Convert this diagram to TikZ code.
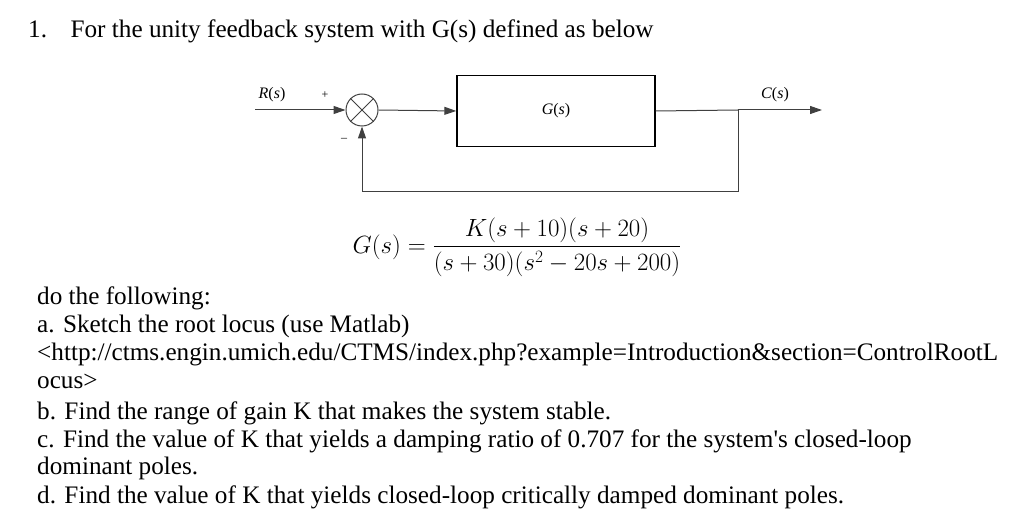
\documentclass[tikz,border=0pt]{standalone}
\usepackage{amsmath}
\usepackage{fontspec}
\setmainfont{Liberation Serif}
\usetikzlibrary{arrows.meta}
\begin{document}
\begin{tikzpicture}[x=1pt,y=-1pt,
  txt/.style={anchor=west,inner sep=0pt,font=\fontsize{25.2}{28}\selectfont},
  lbl/.style={inner sep=0pt,font=\fontsize{16}{18}\selectfont},
  wire/.style={draw=black!75,line width=1pt},
  arr/.style={wire,-{Triangle[length=12pt,width=8pt]}}]
\useasboundingbox (0,0) rectangle (1024,529);
\node[txt] (t1) at (28,31) {1.\hspace{0.6em} For the unity feedback system with G(s) defined as below};
% block diagram
\coordinate (in) at (255,110);
\node[draw=black!75,line width=1pt,circle,minimum size=32pt,inner sep=0pt] (sum) at (362,110) {};
\draw[wire] (sum.north west) -- (sum.south east) (sum.north east) -- (sum.south west);
\node[draw=black,line width=1.4pt,minimum width=198pt,minimum height=71pt,inner sep=0pt,lbl] (g) at (556,111) {\textit{G}(\textit{s})};
\coordinate (tap) at (738,110);
\coordinate (out) at (822,110);
\coordinate (fb) at (738,192);
\coordinate (fb2) at (362,192);
\draw[arr] (in) -- (sum.west);
\draw[arr] (sum.east) -- (g.west);
\draw[wire] (g.east) -- (tap);
\draw[arr] (tap) -- (out);
\draw[wire] (tap) -- (fb) -- (fb2);
\draw[arr] (fb2) -- (sum.south);
\node[lbl] (r) at (272,95) {\textit{R}(\textit{s})};
\node[lbl] (c) at (775,95) {\textit{C}(\textit{s})};
\node[lbl,font=\fontsize{12}{14}\selectfont] (p) at (325,95) {+};
\node[lbl,font=\fontsize{12}{14}\selectfont] (m) at (344,140) {\textendash};
% transfer function
\node[inner sep=0pt,font=\fontsize{23.5}{28}\selectfont] (eq) at (517,247)
  {$G(s)=\dfrac{K(s+10)(s+20)}{(s+30)(s^2-20s+200)}$};
% questions
\node[txt] (q0) at (37,298) {do the following:};
\node[txt] (q1) at (37,326) {a. Sketch the root locus (use Matlab)};
\node[txt] (q2) at (37,354) {<http://ctms.engin.umich.edu/CTMS/index.php?example=Introduction\&section=ControlRootL};
\node[txt] (q3) at (37,381) {ocus>};
\node[txt] (q4) at (37,413) {b. Find the range of gain K that makes the system stable.};
\node[txt] (q5) at (37,441) {c. Find the value of K that yields a damping ratio of 0.707 for the system\textquotesingle s closed-loop};
\node[txt] (q6) at (37,468) {dominant poles.};
\node[txt] (q7) at (37,497) {d. Find the value of K that yields closed-loop critically damped dominant poles.};
\end{tikzpicture}
\end{document}
